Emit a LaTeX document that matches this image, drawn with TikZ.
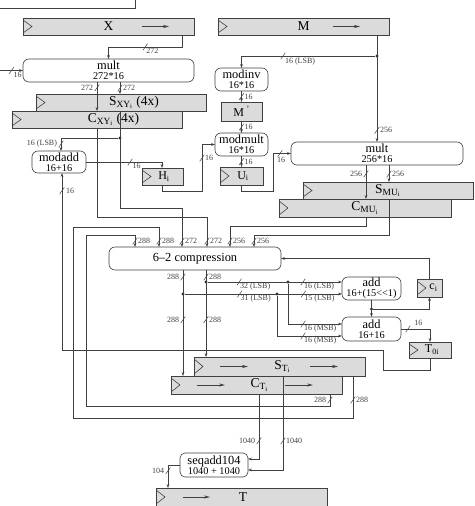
\documentclass[tikz,border=0pt]{standalone}
\usepackage{fontspec}
\setmainfont{Liberation Serif}
\usetikzlibrary{arrows.meta}

% two-line text of an arithmetic unit
\newcommand\twoline[2]{#1\\[-1pt]{\fontsize{10.3}{11}\selectfont #2}}

\begin{document}
\begin{tikzpicture}[x=1pt, y=-1pt, line width=0.6pt,
        bus/.pic={\draw[-, line width=0.5pt] (-2.3,3.3) -- (2.3,-3.3);}]
        \tikzstyle{every node}=[inner sep=0pt, outer sep=0pt]
        \tikzstyle{reg}=[draw=black!75, fill=black!14, font=\fontsize{13.5}{14}\selectfont,
            path picture={\draw[black!75] ([yshift=-2pt]path picture bounding box.north west)
                -- ([xshift=9pt]path picture bounding box.west)
                -- ([yshift=2pt]path picture bounding box.south west);}]
        \tikzstyle{smallreg}=[reg, font=\fontsize{12}{13}\selectfont]
        \tikzstyle{unit}=[draw=black!75, fill=white, rounded corners=6pt, align=center, font=\fontsize{12.4}{11}\selectfont]
        \tikzstyle{regtext}=[font=\fontsize{13.5}{14}\selectfont]
        \tikzstyle{regarrow}=[black!75, -{Stealth[length=6pt, width=3pt]}]
        \tikzstyle{sig}=[black!75, -{Stealth[length=4pt, width=2.8pt]}]
        \tikzstyle{lbl}=[font=\fontsize{8}{9}\selectfont, inner sep=1pt]
        \tikzstyle{dot}=[circle, fill=black!85, minimum size=3.2pt]
        \useasboundingbox (0,0) rectangle (474,506);

        % box cut at the top edge
        \draw[black!75] (0,8) -| (135,0);

        % registers and units
        \node[reg, minimum width=171pt, minimum height=17pt] (X) at (108.5,26.5) {X};
        \node[reg, minimum width=171pt, minimum height=17pt] (M) at (303.5,26.5) {M};
        \node[unit, minimum width=171pt, minimum height=23pt] (multxy) at (108.5,70.5) {\twoline{mult}{272*16}};
        \node[unit, minimum width=53pt, minimum height=23pt] (modinv) at (241.5,79.5) {\twoline{modinv}{16*16}};
        \node[draw=black!75, fill=black!14, font=\fontsize{12}{13}\selectfont, minimum width=41pt, minimum height=19pt] (mprime) at (241.5,111.5) {M\textsuperscript{\,\,'}};
        \node[reg, minimum width=170pt, minimum height=17pt] (sxy) at (121,102.5) {};
        \node[reg, minimum width=170pt, minimum height=17pt] (cxy) at (97,119.5) {};
        \node[regtext] (sxyt) at (134,102.5) {S\textsubscript{XY\textsubscript{i}}\ (4x)};
        \node[regtext] (cxyt) at (113.5,119.5) {C\textsubscript{XY\textsubscript{i}}\ (4x)};
        \node[unit, minimum width=53pt, minimum height=23pt] (modmult) at (241.5,144.5) {\twoline{modmult}{16*16}};
        \node[unit, minimum width=54pt, minimum height=22pt] (modadd) at (59,162) {\twoline{modadd}{16+16}};
        \node[smallreg, minimum width=41pt, minimum height=17pt] (hi) at (162.5,176.5) {\hspace{3pt}H\textsubscript{i}};
        \node[smallreg, minimum width=43pt, minimum height=18pt] (ui) at (241.5,176) {\hspace{3pt}U\textsubscript{i}};
        \node[unit, minimum width=172pt, minimum height=23pt] (multmu) at (377,153.5) {\twoline{mult}{256*16}};
        \node[reg, minimum width=170pt, minimum height=17pt] (smu) at (388,190.5) {S\textsubscript{MU\textsubscript{i}}};
        \node[reg, minimum width=172pt, minimum height=18pt] (cmu) at (365,208) {C\textsubscript{MU\textsubscript{i}}};
        \node[unit, minimum width=172pt, minimum height=23pt] (comp) at (195,258.5) {6--2 compression};
        \node[unit, minimum width=59pt, minimum height=23pt] (addlo) at (371.5,288.5) {\twoline{add}{16+(15<{}<1)}};
        \node[unit, minimum width=59pt, minimum height=24pt] (addhi) at (371.5,329) {\twoline{add}{16+16}};
        \node[smallreg, minimum width=25pt, minimum height=18pt] (ci) at (429.5,288) {\hspace{8pt}c\textsubscript{i}};
        \node[smallreg, minimum width=42pt, minimum height=16pt] (tzero) at (430,350) {\hspace{4pt}T\textsubscript{0i}};
        \node[reg, minimum width=171pt, minimum height=19pt] (st) at (279.5,366.5) {\hspace{6pt}S\textsubscript{T\textsubscript{i}}};
        \node[reg, minimum width=171pt, minimum height=18pt] (ct) at (256.5,385) {\hspace{6pt}C\textsubscript{T\textsubscript{i}}};
        \node[unit, minimum width=68pt, minimum height=24pt, rounded corners=5pt] (seqadd) at (214,465) {\twoline{seqadd104}{1040 + 1040}};
        \node[reg, minimum width=171pt, minimum height=18pt] (T) at (241.5,497) {\hspace{3pt}T};

        % shift arrows inside the registers
        \draw[regarrow] (142,26.5) -- (169,26.5);
        \draw[regarrow] (333,26.5) -- (360,26.5);
        \draw[regarrow] (220,366.5) -- (248,366.5);
        \draw[regarrow] (310,366.5) -- (338,366.5);
        \draw[regarrow] (197,385) -- (225,385);
        \draw[regarrow] (285,385) -- (313,385);
        \draw[regarrow] (183,497) -- (210,497);

        % junctions
        \node[dot] (dxy) at (120,138) {};
        \node[dot] (dm) at (377,56) {};
        \node[dot] (da) at (206,282) {};
        \node[dot] (db) at (183,294) {};
        \node[dot] (dc) at (288,282) {};
        \node[dot] (dd) at (277,294) {};
        \node[dot] (de) at (371.5,309) {};
        \coordinate (in16) at (0,70.5);

        % X * y_i
        \draw[sig] (X.south -| 182,0) -- (182,47) -- (108.5,47) pic[pos=.5]{bus} node[pos=.5, lbl, below right]{272} -- (multxy.north);
        \draw[sig] (in16) -- (multxy.west) pic[pos=.5]{bus} node[pos=.5, lbl, below right=1pt]{16};
        \draw[sig] (multxy.south -| 97,0) -- (cxy.north -| 97,0) pic[pos=.2]{bus} node[pos=.2, lbl, left=3pt]{272};
        \draw[sig] (multxy.south -| 120,0) -- (sxy.north -| 120,0) pic[pos=.5]{bus} node[pos=.5, lbl, right=2pt]{272};
        \draw[sig] (sxy.south -| 120,0) -- (120,208) -- (182,208) -- (comp.north -| 182,0) pic[pos=.85]{bus} node[pos=.85, lbl, right=2pt]{272};
        \draw[sig] (cxy.south -| 97,0) -- (97,217) -- (207,217) -- (comp.north -| 207,0) pic[pos=.8]{bus} node[pos=.8, lbl, right=2pt]{272};
        \draw[sig] (dxy) -| (modadd.north -| 61,0) pic[pos=.73]{bus} node[pos=.73, lbl, left=3pt]{16 (LSB)};

        % q_i = (H_i * M') mod 2^16
        \draw[sig] (modadd.east) -- (162,162) pic[pos=.58]{bus} node[pos=.6, lbl, below right]{16} -- (hi.north -| 162,0);
        \draw[sig] (hi.south) -- (162.5,191) -- (202,191) -- (202,144.5) pic[pos=.71]{bus} node[pos=.71, lbl, right=2pt]{16} -- (modmult.west);
        \draw[sig] (M.south -| 377,0) -- (multmu.north -| 377,0) pic[pos=.89]{bus} node[pos=.89, lbl, right=2pt]{256};
        \draw[sig] (dm) -- (241.5,56) pic[pos=.69]{bus} node[pos=.69, lbl, below right=1pt]{16 (LSB)} -- (modinv.north);
        \draw[sig] (modinv.south) -- (mprime.north) pic[pos=.5]{bus} node[pos=.5, lbl, right=2pt]{16};
        \draw[sig] (mprime.south) -- (modmult.north) pic[pos=.5]{bus} node[pos=.5, lbl, right=2pt]{16};
        \draw[sig] (modmult.south) -- (ui.north) pic[pos=.5]{bus} node[pos=.5, lbl, right=2pt]{16};

        % M * q_i
        \draw[sig] (ui.south) -- (241.5,191) -- (273,191) -- (273,153.5) -- (multmu.west) pic[pos=.39]{bus} node[pos=.45, lbl, below=3pt]{16};
        \draw[sig] (multmu.south -| 366,0) -- (cmu.north -| 366,0) pic[pos=.26]{bus} node[pos=.26, lbl, left=3pt]{256};
        \draw[sig] (multmu.south -| 389,0) -- (smu.north -| 389,0) pic[pos=.53]{bus} node[pos=.53, lbl, right=2pt]{256};
        \draw[sig] (cmu.south -| 366,0) -- (366,226) -- (230,226) -- (comp.north -| 230,0) pic[pos=.71]{bus} node[pos=.71, lbl, right=2pt]{256};
        \draw[sig] (smu.south -| 389,0) -- (389,235) -- (254,235) -- (comp.north -| 254,0) pic[pos=.5]{bus} node[pos=.5, lbl, right=2pt]{256};

        % feedback of the accumulator
        \draw[sig] (st.south -| 353,0) -- (353,418) pic[pos=.57]{bus} node[pos=.57, lbl, right=2pt]{288} -- (73,418) -- (73,227) -- (159,227) -- (comp.north -| 159,0) pic[pos=.7]{bus} node[pos=.7, lbl, right=2pt]{288};
        \draw[sig] (ct.south -| 330,0) -- (330,406) pic[pos=.5]{bus} node[pos=.5, lbl, left=3pt]{288} -- (86,406) -- (86,235) -- (135,235) -- (comp.north -| 135,0) pic[pos=.5]{bus} node[pos=.5, lbl, right=2pt]{288};
        \draw[sig] (comp.south -| 183,0) -- (ct.north -| 183,0) pic[pos=.066]{bus} node[pos=.066, lbl, left=3pt]{288} pic[pos=.47]{bus} node[pos=.47, lbl, left=3pt]{288};
        \draw[sig] (comp.south -| 206,0) -- (st.north -| 206,0) pic[pos=.08]{bus} node[pos=.08, lbl, right=2pt]{288} pic[pos=.57]{bus} node[pos=.57, lbl, right=2pt]{288};

        % low word of the sum
        \draw[sig] (da) -- (addlo.west |- da) pic[pos=.235]{bus} node[pos=.235, lbl, below right]{32 (LSB)} pic[pos=.71]{bus} node[pos=.71, lbl, below right]{16 (LSB)};
        \draw[sig] (db) -- (addlo.west |- db) pic[pos=.35]{bus} node[pos=.35, lbl, below right]{31 (LSB)} pic[pos=.755]{bus} node[pos=.755, lbl, below right]{15 (LSB)};
        \draw[sig] (dc) |- (addhi.west |- 0,324) pic[pos=.64]{bus} node[pos=.64, lbl, below right]{16 (MSB)};
        \draw[sig] (dd) |- (addhi.west |- 0,336) pic[pos=.7]{bus} node[pos=.7, lbl, below right]{16 (MSB)};
        \draw[sig] (addlo.south) -- (addhi.north);
        \draw[sig] (de) -| (ci.south);
        \draw[sig] (ci.north) |- (comp.east);
        \draw[sig] (addhi.east) -| (tzero.north) pic[pos=.12]{bus} node[pos=.3, lbl, above=2pt]{16};
        \draw[sig] (tzero.south) -- (430,370) -- (383,370) -- (383,350) -- (62,350) -- (modadd.south -| 62,0) pic[pos=.9]{bus} node[pos=.9, lbl, right=3pt]{16};

        % final addition
        \draw[sig] (ct.south -| 259,0) -- (259,459) pic[pos=.72]{bus} node[pos=.72, lbl, left=3pt]{1040} -- (seqadd.east |- 0,459);
        \draw[sig] (st.south -| 283,0) -- (283,470) pic[pos=.69]{bus} node[pos=.69, lbl, right=2pt]{1040} -- (seqadd.east |- 0,470);
        \draw[sig] (seqadd.west) -- (168,465) -- (T.north -| 168,0) pic[pos=.25]{bus} node[pos=.25, lbl, left=3pt]{104};
\end{tikzpicture}
\end{document}
